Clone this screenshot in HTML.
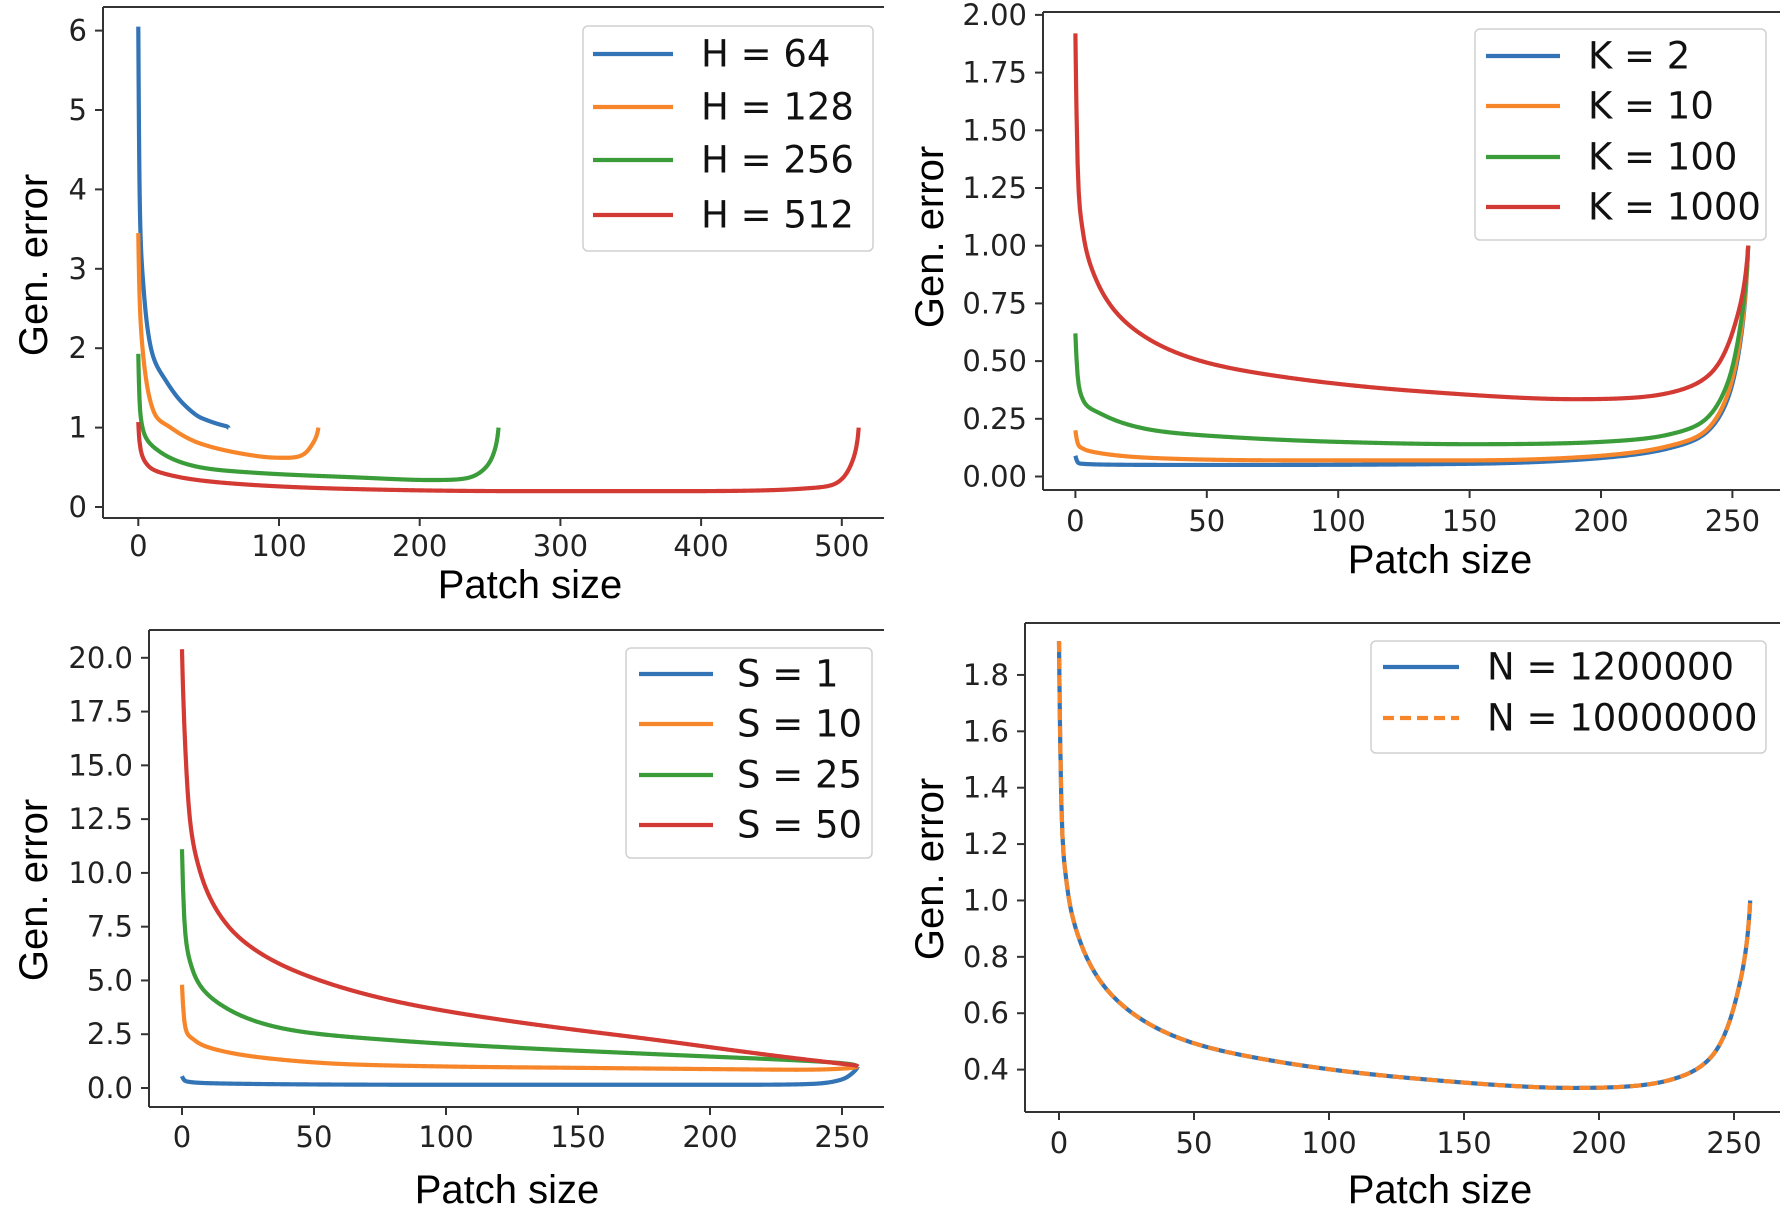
<!DOCTYPE html>
<html><head><meta charset="utf-8">
<style>
html,body{margin:0;padding:0;background:#fff;}
svg{display:block;}
.tk{font-family:"DejaVu Sans",sans-serif;font-size:29px;fill:#222;}
.lg{font-family:"DejaVu Sans",sans-serif;font-size:37px;fill:#111;}
.ax{font-family:"Liberation Sans",sans-serif;font-size:40px;fill:#000;}
</style></head>
<body>
<svg id="s" xmlns="http://www.w3.org/2000/svg" width="1780" height="1224" viewBox="0 0 1780 1224"></svg>
<script>
var S=document.getElementById('s'),NS='http://www.w3.org/2000/svg';
function el(t,a,txt){var e=document.createElementNS(NS,t);for(var k in a)e.setAttribute(k,a[k]);if(txt!==undefined)e.textContent=txt;S.appendChild(e);return e;}
var C={b:'#3274b5',o:'#f7862a',g:'#3b9c3a',r:'#d33a33'};
function interp(pts){
 var H=pts[pts.length-1][0];
 function U(p){return Math.log(p+1)-Math.log(H+1-p);}
 var xs=pts.map(p=>U(p[0])),ys=pts.map(p=>p[1]),m=xs.length,d=[],t=[],i;
 for(i=0;i<m-1;i++)d.push((ys[i+1]-ys[i])/(xs[i+1]-xs[i]));
 t[0]=d[0];t[m-1]=d[m-2];
 for(i=1;i<m-1;i++){t[i]=(d[i-1]*d[i]<=0)?0:(d[i-1]+d[i])/2;}
 for(i=0;i<m-1;i++){if(d[i]==0){t[i]=0;t[i+1]=0;continue;}var a=t[i]/d[i],b=t[i+1]/d[i],h=a*a+b*b;if(h>9){var s=3/Math.sqrt(h);t[i]=s*a*d[i];t[i+1]=s*b*d[i];}}
 function f(u){var k=0;while(k<m-2&&u>xs[k+1])k++;var h=xs[k+1]-xs[k],v=(u-xs[k])/h;
  var h00=2*v*v*v-3*v*v+1,h10=v*v*v-2*v*v+v,h01=-2*v*v*v+3*v*v,h11=v*v*v-v*v;
  return h00*ys[k]+h10*h*t[k]+h01*ys[k+1]+h11*h*t[k+1];}
 var out=[],N=600;
 for(var j=0;j<=N;j++){var p=H*j/N;out.push([p,f(U(p))]);}
 // extra fine near ends
 var ex=[];for(j=1;j<40;j++){var q=H/N*j/40;ex.push(q);}
 var res=[];
 [0].concat(ex).forEach(function(q){res.push([q,f(U(q))]);});
 for(j=1;j<N;j++)res.push(out[j]);
 ex.slice().reverse().forEach(function(q){var p=H-q;res.push([p,f(U(p))]);});
 res.push([H,ys[m-1]]);
 return res;}
function panel(P){
 el('line',{x1:P.L,y1:P.T,x2:P.R,y2:P.T,stroke:'#333','stroke-width':2});
 el('line',{x1:P.L,y1:P.T,x2:P.L,y2:P.B,stroke:'#333','stroke-width':2});
 el('line',{x1:P.L,y1:P.B,x2:P.R,y2:P.B,stroke:'#333','stroke-width':2});
 P.xt.forEach(function(v){var x=P.x0+v*P.xs;el('line',{x1:x,y1:P.B,x2:x,y2:P.B+8,stroke:'#333','stroke-width':2});
  el('text',{x:x,y:P.xly,'text-anchor':'middle','dominant-baseline':'central','class':'tk'},String(v));});
 P.yt.forEach(function(v){var y=P.y0-v*P.ys;el('line',{x1:P.L-8,y1:y,x2:P.L,y2:y,stroke:'#333','stroke-width':2});
  el('text',{x:P.ylx,y:y,'text-anchor':'end','dominant-baseline':'central','class':'tk'},v.toFixed(P.dec));});
 P.series.forEach(function(sr){var pts=interp(sr.k),d='';
  pts.forEach(function(p,i){var x=P.x0+p[0]*P.xs,y=P.y0-p[1]*P.ys;d+=(i?'L':'M')+x.toFixed(2)+' '+y.toFixed(2);});
  var a={d:d,fill:'none',stroke:sr.c,'stroke-width':4.2,'stroke-linejoin':'round','stroke-linecap':'butt'};
  if(sr.dash)a['stroke-dasharray']=sr.dash;el('path',a);});
 var Lg=P.lg;el('rect',{x:Lg.x1,y:Lg.y1,width:Lg.x2-Lg.x1,height:Lg.y2-Lg.y1,rx:5,fill:'#fff','fill-opacity':0.85,stroke:'#d0d0d0','stroke-width':1.5});
 Lg.items.forEach(function(it,i){var y=Lg.ys[i];var a={x1:Lg.lx1,y1:y,x2:Lg.lx2,y2:y,stroke:it.c,'stroke-width':4.2};if(it.dash)a['stroke-dasharray']=it.dash;el('line',a);
  el('text',{x:Lg.tx,y:y,'dominant-baseline':'central','class':'lg'},it.t);});
 el('text',{x:P.xlab[0],y:P.xlab[1],'text-anchor':'middle','dominant-baseline':'central','class':'ax'},'Patch size');
 el('text',{x:0,y:0,'text-anchor':'middle','dominant-baseline':'central','class':'ax',transform:'translate('+P.ylab[0]+','+P.ylab[1]+') rotate(-90)'},'Gen. error');
}
var red256=[[0,1.92],[1,1.3],[3,1.05],[8,0.85],[20,0.66],[45,0.51],[80,0.43],[130,0.37],[190,0.335],[225,0.36],[242,0.45],[252,0.7],[256,1.0]];
panel({L:103,R:884,T:7,B:518,x0:138.3,xs:1.407,y0:507,ys:79.4,xt:[0,100,200,300,400,500],yt:[0,1,2,3,4,5,6],dec:0,xly:546,ylx:87,
 xlab:[530,585],ylab:[34,265],
 series:[
 {c:C.b,k:[[0,6.05],[1,3.9],[4,2.7],[9,2.0],[20,1.58],[32,1.3],[45,1.12],[64,1.0]]},
 {c:C.o,k:[[0,3.45],[1,2.6],[3,2.0],[11,1.2],[23,1.0],[44,0.8],[85,0.64],[105,0.62],[116,0.65],[124,0.8],[128,1.0]]},
 {c:C.g,k:[[0,1.93],[1,1.3],[3,1.0],[15,0.7],[44,0.5],[84,0.43],[145,0.38],[206,0.34],[235,0.37],[247,0.5],[253,0.7],[256,1.0]]},
 {c:C.r,k:[[0,1.07],[1,0.8],[7,0.52],[23,0.40],[64,0.30],[145,0.23],[268,0.2],[390,0.2],[471,0.23],[496,0.3],[508,0.6],[512,1.0]]}],
 lg:{x1:583,y1:26,x2:873,y2:251,lx1:593,lx2:673,tx:701,ys:[54,107,160,215],items:[{c:C.b,t:'H = 64'},{c:C.o,t:'H = 128'},{c:C.g,t:'H = 256'},{c:C.r,t:'H = 512'}]}});
panel({L:1043,R:1780,T:12,B:490,x0:1075.4,xs:2.628,y0:476.5,ys:230.8,xt:[0,50,100,150,200,250],yt:[0,0.25,0.5,0.75,1,1.25,1.5,1.75,2],dec:2,xly:521,ylx:1027,
 xlab:[1440,560],ylab:[930,237],
 series:[
 {c:C.b,k:[[0,0.09],[1,0.06],[3,0.055],[50,0.05],[150,0.055],[200,0.08],[225,0.12],[240,0.19],[248,0.33],[253,0.58],[256,1.0]]},
 {c:C.o,k:[[0,0.2],[1,0.14],[3,0.12],[10,0.1],[30,0.08],[80,0.07],[150,0.07],[200,0.09],[225,0.13],[240,0.2],[248,0.35],[253,0.6],[256,1.0]]},
 {c:C.g,k:[[0,0.62],[1,0.42],[3,0.33],[10,0.27],[30,0.2],[60,0.17],[100,0.15],[150,0.14],[200,0.15],[225,0.18],[240,0.25],[248,0.4],[253,0.65],[256,1.0]]},
 {c:C.r,k:red256}],
 lg:{x1:1475,y1:29,x2:1766,y2:240,lx1:1486,lx2:1560,tx:1588,ys:[56,106,157,207],items:[{c:C.b,t:'K = 2'},{c:C.o,t:'K = 10'},{c:C.g,t:'K = 100'},{c:C.r,t:'K = 1000'}]}});
panel({L:149,R:884,T:630,B:1107,x0:182,xs:2.64,y0:1088,ys:21.51,xt:[0,50,100,150,200,250],yt:[0,2.5,5,7.5,10,12.5,15,17.5,20],dec:1,xly:1137,ylx:133,
 xlab:[507,1190],ylab:[34,890],
 series:[
 {c:C.b,k:[[0,0.55],[1,0.35],[3,0.28],[20,0.2],[100,0.15],[200,0.15],[240,0.2],[250,0.4],[254,0.7],[256,1.0]]},
 {c:C.o,k:[[0,4.8],[1,3.0],[5,2.2],[17,1.67],[35,1.35],[60,1.12],[100,1.0],[147,0.94],[200,0.88],[233,0.85],[250,0.9],[256,1.0]]},
 {c:C.g,k:[[0,11.1],[1,7.6],[4,5.5],[17,3.7],[39,2.75],[82,2.2],[147,1.75],[212,1.4],[256,1.0]]},
 {c:C.r,k:[[0,20.4],[1,16.5],[3,12.5],[7,10.0],[17,7.6],[28,6.4],[50,5.1],[82,4.0],[125,3.1],[169,2.4],[212,1.7],[238,1.3],[256,1.0]]}],
 lg:{x1:626,y1:648,x2:872,y2:858,lx1:639,lx2:713,tx:737,ys:[674,724,775,825],items:[{c:C.b,t:'S = 1'},{c:C.o,t:'S = 10'},{c:C.g,t:'S = 25'},{c:C.r,t:'S = 50'}]}});
panel({L:1025,R:1780,T:623,B:1112,x0:1059,xs:2.7,y0:1069.6+0.4*281.9,ys:281.9,xt:[0,50,100,150,200,250],yt:[0.4,0.6,0.8,1.0,1.2,1.4,1.6,1.8],dec:1,xly:1143,ylx:1009,
 xlab:[1440,1190],ylab:[930,869],
 series:[{c:C.b,k:red256},{c:C.o,k:red256,dash:'11,6'}],
 lg:{x1:1371,y1:641,x2:1766,y2:753,lx1:1383,lx2:1459,tx:1487,ys:[667,718],items:[{c:C.b,t:'N = 1200000'},{c:C.o,t:'N = 10000000',dash:'11,6'}]}});
</script>
</body></html>
